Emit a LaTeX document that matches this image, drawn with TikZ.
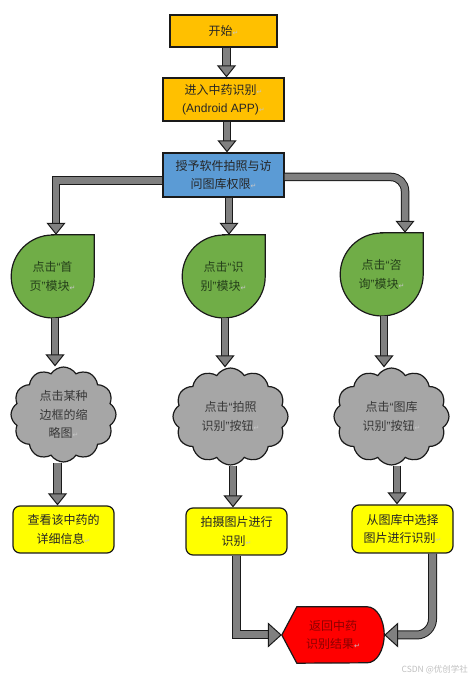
\documentclass[tikz,border=0pt]{standalone}
\usepackage{fontspec}
\setmainfont{Noto Sans CJK SC}
\newfontfamily\lat{Liberation Sans}
\newfontfamily\djv{DejaVu Sans}
\usetikzlibrary{arrows.meta,shapes.symbols,calc,backgrounds}
\definecolor{orangef}{HTML}{FFC000}
\definecolor{bluef}{HTML}{5B9BD5}
\definecolor{greenf}{HTML}{70AD47}
\definecolor{cloudf}{HTML}{A6A6A6}
\definecolor{yellowf}{HTML}{FFFF00}
\definecolor{redf}{HTML}{FF0000}
\definecolor{arrg}{HTML}{808080}
\definecolor{edge}{HTML}{1A1A1A}
\definecolor{greentxt}{HTML}{25401A}
\definecolor{redtxt}{HTML}{8C0000}
\newcommand\pmk{{\djv\fontsize{7}{7}\selectfont\color{black!22}↵}}
\newcommand\zqL{{\lat “}}
\newcommand\zqR{{\lat ”}}
\begin{document}
\begin{tikzpicture}[x=1pt,y=1pt,
  txt/.style={font=\fontsize{12}{18.5}\selectfont, align=center, inner sep=0pt},
  sqbox/.style={txt, draw=edge, line width=1.2pt, text=black!85},
  ybox/.style={sqbox, rounded corners=7pt, fill=yellowf, minimum width=101pt, minimum height=47pt},
  leaf/.style={txt, minimum size=83pt, text=greentxt},
  leafshape/.style={fill=greenf, draw=edge, line width=1.2pt},
  cloudst/.style={txt, cloud, cloud puffs=12, cloud puff arc=115, fill=cloudf, draw=edge, line width=1.2pt, text=black!78},
  blk/.style={draw=edge, line width=1pt, double=arrg, double distance=6.5pt,
    -{Triangle[length=12pt,width=19pt,line width=1pt,fill=arrg,color=edge]}},
  blkbig/.style={draw=edge, line width=1pt, double=arrg, double distance=7pt,
    -{Triangle[length=14pt,width=25pt,line width=1pt,fill=arrg,color=edge]}}
]
\useasboundingbox (0,0) rectangle (474,680);
% nodes
\node[sqbox, fill=orangef, minimum width=107pt, minimum height=32pt] (start) at (223.5,649) {开始\pmk};
\node[sqbox, fill=orangef, minimum width=121pt, minimum height=43pt] (app) at (223.5,580.5) {进入中药识别\pmk\\{\lat (Android APP)}\pmk};
\node[sqbox, fill=bluef, minimum width=121pt, minimum height=44pt] (perm) at (223.5,505) {授予软件拍照与访\\问图库权限\pmk};
\node[leaf] (g1) at (52.5,403.5) {点击\zqL 首\\页\zqR 模块\pmk};
\node[leaf] (g2) at (223.5,403.5) {点击\zqL 识\\别\zqR 模块\pmk};
\node[leaf] (g3) at (381.5,405.5) {点击\zqL 咨\\询\zqR 模块\pmk};
\node[cloudst, minimum width=105pt, minimum height=95pt] (c1) at (63.5,265.5) {点击某种\\边框的缩\\略图\pmk};
\node[cloudst, minimum width=115pt, minimum height=97pt] (c2) at (230.5,263.5) {点击\zqL 拍照\\识别\zqR 按钮\pmk};
\node[cloudst, minimum width=115pt, minimum height=97pt] (c3) at (391.5,263.5) {点击\zqL 图库\\识别\zqR 按钮\pmk};
\node[ybox] (y1) at (63.5,150.5) {查看该中药的\\详细信息\pmk};
\node[ybox] (y2) at (236.5,148.5) {拍摄图片进行\\识别\pmk};
\node[ybox, minimum height=48pt] (y3) at (402.5,151) {从图库中选择\\图片进行识别\pmk};
\node[txt, minimum width=102pt, minimum height=56pt, text=redtxt] (res) at (333,45) {返回中药\\识别结果\pmk};
\node[font=\fontsize{8.5}{9}\selectfont, text=black!25, anchor=east, inner sep=0pt] (wm) at (468,10) {CSDN @优创学社};
% shapes behind text
\begin{scope}[on background layer]
  \foreach \g in {g1,g2,g3}
    \draw[leafshape] (\g.north) -- (\g.north east) -- (\g.east) arc[start angle=0,end angle=-270,radius=41.5pt] -- cycle;
  \draw[fill=redf, draw=edge, line width=1.2pt] ($(res.north west)+(15,0)$) -- ($(res.north east)+(-17,0)$)
    arc[start angle=90,end angle=-90,x radius=17pt,y radius=28pt] -- ($(res.south west)+(15,0)$) -- (res.west) -- cycle;
\end{scope}
% connectors
\draw[blk] ($(start.south)+(3,0)$) -- ($(start.south |- app.north)+(3,0)$);
\draw[blk] ($(app.south)+(3.5,0)$) -- ($(app.south |- perm.north)+(3.5,0)$);
\draw[blk] ($(perm.south)+(5.5,0)$) -- ($(perm.south |- g2.north)+(5.5,0)$);
\draw[blk] ($(perm.west)+(0,-5.5)$) -| ($(g1.north)+(3.5,0)$);
\draw[blk, rounded corners=14pt] ($(perm.east)+(0,-2)$) -| ($(g3.north)+(23.5,0)$);
\draw[blk] ($(g1.south)+(2.5,0)$) -- ($(g1.south |- c1.north)+(2.5,0)$);
\draw[blk] ($(g2.south)+(1.5,0)$) -- ($(g2.south |- c2.north)+(1.5,0)$);
\draw[blk] ($(g3.south)+(2.5,0)$) -- ($(g3.south |- c3.north)+(2.5,0)$);
\draw[blk] ($(c1.south)+(-6,0)$) -- ($(c1.south |- y1.north)+(-6,0)$);
\draw[blk] ($(c2.south)+(2.5,0)$) -- ($(c2.south |- y2.north)+(2.5,0)$);
\draw[blk] ($(c3.south)+(5.5,0)$) -- ($(c3.south |- y3.north)+(5.5,0)$);
\draw[blkbig] ($(y2.south)+(-0.5,0)$) |- (res.west);
\draw[blkbig, rounded corners=16pt] ($(y3.south)+(30,0)$) |- (res.east);
\end{tikzpicture}
\end{document}
